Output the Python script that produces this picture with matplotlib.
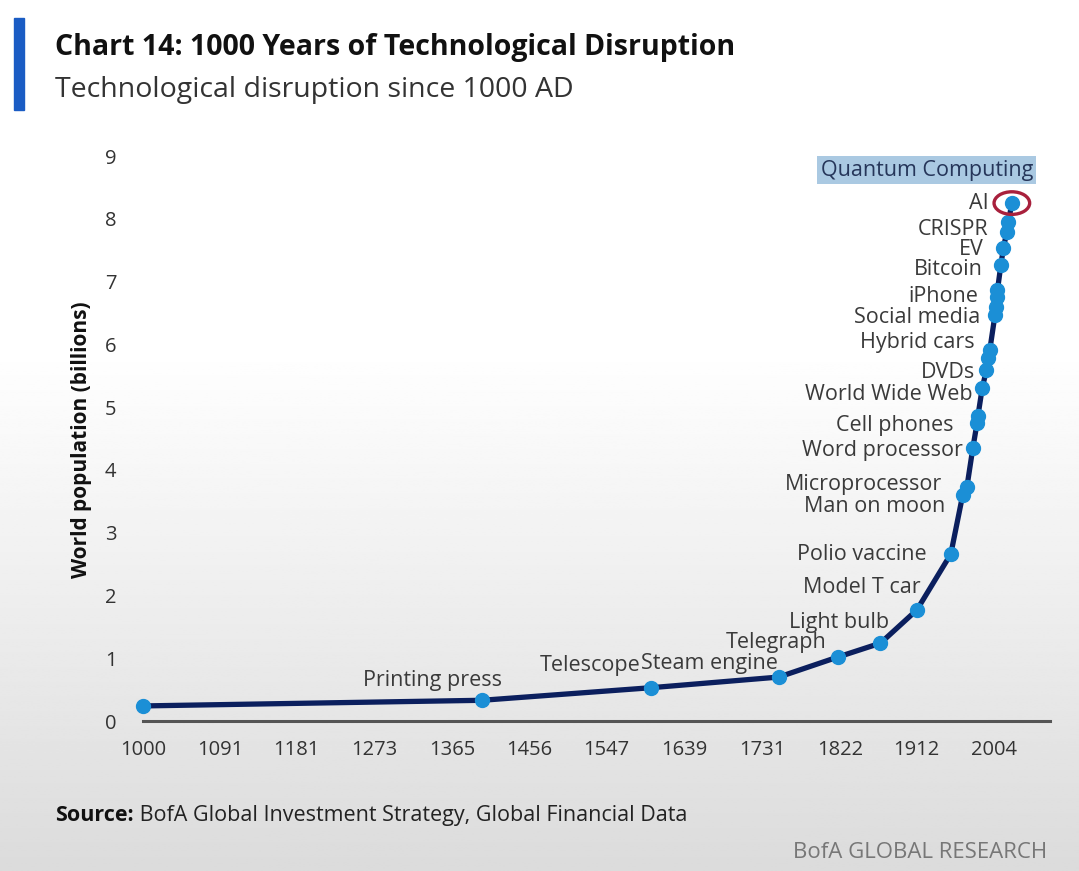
import numpy as np
import matplotlib
matplotlib.use('Agg')
import matplotlib.pyplot as plt
from matplotlib.patches import Ellipse, Rectangle

# world population (billions) at each technology milestone
years = [1000, 1400, 1599, 1750, 1820, 1870, 1913, 1953, 1967, 1972, 1979, 1984, 1985,
         1990, 1995, 1997, 1999, 2005, 2006, 2007, 2008, 2012, 2015, 2019, 2021, 2025]
pop = [0.24, 0.33, 0.53, 0.70, 1.02, 1.24, 1.77, 2.66, 3.60, 3.73, 4.35, 4.75, 4.86,
       5.30, 5.59, 5.78, 5.91, 6.46, 6.59, 6.75, 6.86, 7.26, 7.53, 7.79, 7.95, 8.25]
labels = ['', 'Printing press', 'Telescope', 'Steam engine', 'Telegraph', 'Light bulb',
          'Model T car', 'Polio vaccine', 'Man on moon', 'Microprocessor', 'Word processor',
          'Cell phones', '', 'World Wide Web', 'DVDs', '', 'Hybrid cars', 'Social media', '',
          'iPhone', '', 'Bitcoin', 'EV', 'CRISPR', '', 'AI']
x_ticks = [1000, 1091, 1181, 1273, 1365, 1456, 1547, 1639, 1731, 1822, 1912, 2004]
y_ticks = [0, 1, 2, 3, 4, 5, 6, 7, 8, 9]

# label placement: offset in pixels from the dot, and alignment
offsets = {
    'Printing press': (-50, 20, 'center'), 'Telescope': (-61, 22, 'center'),
    'Steam engine': (-69, 14, 'center'), 'Telegraph': (-62, 14, 'center'),
    'Light bulb': (-41, 21, 'center'), 'Model T car': (-55, 22, 'center'),
    'Polio vaccine': (-24, 0, 'right'), 'Man on moon': (-17, -12, 'right'),
    'Microprocessor': (-25, 2, 'right'), 'Word processor': (-10, -3, 'right'),
    'Cell phones': (-24, -3, 'right'), 'World Wide Web': (-10, -6, 'right'),
    'DVDs': (-11, -2, 'right'), 'Hybrid cars': (-15, 7, 'right'),
    'Social media': (-15, -2, 'right'), 'iPhone': (-18, 1, 'right'),
    'Bitcoin': (-18, -4, 'right'), 'EV': (-20, -1, 'right'),
    'CRISPR': (-18, 2, 'right'), 'AI': (-23, 0, 'right'),
}

plt.rcParams['font.family'] = ['Open Sans', 'DejaVu Sans']

fig = plt.figure(figsize=(10.79, 8.71), dpi=100)

# background: white fading to light grey towards the bottom
bg = fig.add_axes([0, 0, 1, 1], zorder=-5)
f = np.linspace(0, 1, 400)[:, None]
g = 1 - 0.14 * np.clip((f - 0.4) / 0.6, 0, 1)
bg.imshow(np.repeat(g, 2, axis=1), cmap='gray', vmin=0, vmax=1, aspect='auto',
          extent=[0, 1, 0, 1])
bg.axis('off')

ax = fig.add_axes([143 / 1079, 150 / 871, 907 / 1079, 565 / 871])
ax.set_facecolor('none')
ax.plot(years, pop, color='#0b1f5e', lw=3.8, zorder=2, solid_capstyle='round', clip_on=False)
ax.plot(years, pop, 'o', color='#1b8fd6', ms=10, zorder=3, clip_on=False)

for yr, p, lab in zip(years, pop, labels):
    if not lab:
        continue
    dx, dy, ha = offsets[lab]
    ax.annotate(lab, (yr, p), xytext=(dx, dy), textcoords='offset pixels',
                ha=ha, va='center', fontsize=15.5, color='#3a3a3a', zorder=4)

ax.annotate('Quantum Computing', (years[-1], pop[-1]), xytext=(-85, 33),
            textcoords='offset pixels', ha='center', va='center', fontsize=15.5,
            color='#26365a', zorder=4,
            bbox=dict(boxstyle='square,pad=0.15', fc='#aac9e2', ec='none'))
ax.add_patch(Ellipse((years[-1], pop[-1]), 42, 0.36, fill=False, ec='#a8203c',
                     lw=2.4, zorder=5))

ax.set_xlim(1000, 2070)
ax.set_ylim(0, 9)
ax.set_xticks(x_ticks)
ax.set_yticks(y_ticks)
ax.tick_params(length=0, labelsize=14.5, labelcolor='#333333')
ax.tick_params(axis='x', pad=14)
ax.tick_params(axis='y', pad=19)
for s in ['left', 'top', 'right']:
    ax.spines[s].set_visible(False)
ax.spines['bottom'].set_color('#555555')
ax.spines['bottom'].set_linewidth(2.2)

fig.text(82 / 1079, 1 - 440 / 871, 'World population (billions)', rotation=90,
         ha='center', va='center', fontsize=15, fontweight='bold', color='#111111')

fig.add_artist(Rectangle((14 / 1079, 1 - 110 / 871), 10 / 1079, 92 / 871,
                         transform=fig.transFigure, color='#1a5cc4'))
fig.text(55 / 1079, 1 - 48 / 871, 'Chart 14: 1000 Years of Technological Disruption',
         ha='left', va='center', fontsize=20.5, fontweight='bold', color='#111111')
fig.text(55 / 1079, 1 - 90 / 871, 'Technological disruption since 1000 AD',
         ha='left', va='center', fontsize=20.5, color='#333333')

src = fig.text(55 / 1079, 1 - 815 / 871, 'Source:', ha='left', va='center',
               fontsize=15.5, fontweight='bold', color='#111111')
ax.annotate(' BofA Global Investment Strategy, Global Financial Data', xy=(1, 0.5),
            xycoords=src, ha='left', va='center', fontsize=15.5, color='#222222')
fig.text(1047 / 1079, 1 - 852 / 871, 'BofA GLOBAL RESEARCH', ha='right', va='center',
         fontsize=16, color='#777777')

fig.savefig('out.png', dpi=100)
